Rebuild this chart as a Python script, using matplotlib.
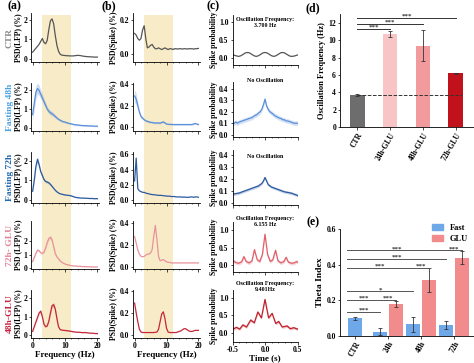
import numpy as np
import matplotlib
matplotlib.use('Agg')
import matplotlib.pyplot as plt
from matplotlib.patches import Patch

plt.rcParams['font.family'] = ['Liberation Serif', 'DejaVu Serif']
plt.rcParams['font.weight'] = 'bold'
plt.rcParams['axes.labelweight'] = 'bold'
plt.rcParams['axes.linewidth'] = 0.6

W, H = 474, 363

# ---------------- data ----------------
THETA_BAND = [3.0, 12.0]
FREQ = np.arange(0, 20.5, 0.5)

# (a) LFP power spectra (%)
CTR_LFP = [0.35, 0.45, 0.55, 0.65, 0.75, 0.9, 1.05, 0.85, 0.78, 0.95, 1.5, 1.95, 2.05, 1.8, 1.2, 0.7,
           0.4, 0.25, 0.2, 0.19, 0.18, 0.17, 0.17, 0.16, 0.16, 0.16, 0.17, 0.18, 0.19, 0.18, 0.17,
           0.15, 0.14, 0.13, 0.12, 0.12, 0.11, 0.11, 0.1, 0.1, 0.1]
F48_LFP = [0.7, 1.3, 1.9, 2.1, 2.0, 1.8, 1.6, 1.4, 1.2, 1.0, 0.88, 0.8, 0.75, 0.68, 0.6, 0.52,
           0.45, 0.4, 0.35, 0.32, 0.3, 0.27, 0.24, 0.22, 0.2, 0.18, 0.16, 0.15, 0.14, 0.13, 0.12,
           0.11, 0.11, 0.1, 0.1, 0.09, 0.09, 0.09, 0.08, 0.08, 0.08]
F48_LFP_SEM = [0.3, 0.35, 0.35, 0.3, 0.28, 0.25, 0.2, 0.18, 0.16, 0.14, 0.13, 0.12, 0.12, 0.1, 0.09,
               0.08, 0.07, 0.06, 0.06, 0.05, 0.05, 0.05, 0.04, 0.04, 0.04, 0.04, 0.04, 0.04, 0.04,
               0.03, 0.03, 0.03, 0.03, 0.03, 0.03, 0.03, 0.03, 0.03, 0.03, 0.03, 0.03]
F72_LFP = [0.45, 1.0, 1.7, 2.08, 1.8, 1.45, 1.25, 1.05, 0.95, 0.92, 0.88, 0.8, 0.7, 0.6, 0.5, 0.42,
           0.36, 0.32, 0.3, 0.28, 0.26, 0.25, 0.24, 0.23, 0.21, 0.18, 0.15, 0.13, 0.12, 0.11, 0.1,
           0.1, 0.1, 0.09, 0.09, 0.08, 0.08, 0.08, 0.07, 0.07, 0.07]
G72_LFP = [0.5, 0.8, 1.1, 1.35, 1.3, 1.15, 1.1, 1.2, 1.5, 1.9, 2.2, 2.3, 2.1, 1.6, 1.1, 0.85,
           0.7, 0.55, 0.45, 0.38, 0.32, 0.28, 0.25, 0.22, 0.2, 0.18, 0.17, 0.16, 0.15, 0.15, 0.14,
           0.13, 0.13, 0.12, 0.12, 0.11, 0.11, 0.1, 0.1, 0.1, 0.1]
G48_LFP = [0.2, 0.45, 0.7, 0.95, 1.2, 1.3, 1.0, 0.6, 0.45, 0.5, 0.75, 1.2, 1.6, 1.65, 1.4, 0.9,
           0.45, 0.3, 0.27, 0.26, 0.25, 0.24, 0.23, 0.21, 0.2, 0.18, 0.17, 0.16, 0.15, 0.15, 0.14,
           0.13, 0.14, 0.13, 0.12, 0.11, 0.1, 0.1, 0.09, 0.08, 0.08]

# (b) spike power spectra (%)
CTR_SPK = [0.12, 0.11, 0.09, 0.08, 0.09, 0.14, 0.165, 0.09, 0.035, 0.04, 0.05, 0.055, 0.04, 0.03,
           0.03, 0.035, 0.03, 0.025, 0.03, 0.035, 0.03, 0.025, 0.03, 0.03, 0.025, 0.03, 0.03, 0.028,
           0.03, 0.03, 0.028, 0.03, 0.03, 0.028, 0.03, 0.03, 0.03, 0.028, 0.03, 0.03, 0.032]
F48_SPK = [0.29, 0.26, 0.2, 0.14, 0.1, 0.085, 0.07, 0.06, 0.055, 0.05, 0.045, 0.045, 0.04, 0.04,
           0.04, 0.04, 0.038, 0.045, 0.05, 0.04, 0.03, 0.028, 0.027, 0.026, 0.025, 0.025, 0.025,
           0.025, 0.025, 0.025, 0.025, 0.025, 0.025, 0.025, 0.025, 0.025, 0.025, 0.03, 0.035, 0.03, 0.025]
F48_SPK_SEM = [0.06, 0.05, 0.03, 0.02, 0.015, 0.012, 0.01, 0.01, 0.01, 0.01, 0.008, 0.008, 0.008,
               0.008, 0.008, 0.008, 0.008, 0.008, 0.008, 0.008, 0.006, 0.006, 0.006, 0.006, 0.006,
               0.006, 0.006, 0.006, 0.006, 0.006, 0.006, 0.006, 0.006, 0.006, 0.006, 0.006, 0.006,
               0.006, 0.006, 0.006, 0.006]
F72_SPK = [0.25, 0.55, 0.15, 0.12, 0.11, 0.1, 0.1, 0.09, 0.085, 0.08, 0.075, 0.07, 0.07, 0.065,
           0.065, 0.06, 0.06, 0.06, 0.055, 0.055, 0.05, 0.05, 0.05, 0.045, 0.045, 0.045, 0.04, 0.04,
           0.04, 0.04, 0.035, 0.04, 0.035, 0.035, 0.035, 0.04, 0.04, 0.035, 0.04, 0.04, 0.035]
G72_SPK = [0.28, 0.22, 0.16, 0.12, 0.1, 0.095, 0.1, 0.11, 0.12, 0.12, 0.13, 0.16, 0.28, 0.38, 0.25,
           0.1, 0.06, 0.065, 0.07, 0.06, 0.05, 0.045, 0.045, 0.04, 0.04, 0.04, 0.04, 0.04, 0.04,
           0.04, 0.04, 0.04, 0.04, 0.04, 0.04, 0.04, 0.04, 0.04, 0.04, 0.04, 0.04]
G48_SPK = [0.29, 0.2, 0.12, 0.05, 0.025, 0.02, 0.02, 0.02, 0.02, 0.02, 0.02, 0.02, 0.02, 0.022,
           0.025, 0.05, 0.12, 0.19, 0.21, 0.15, 0.06, 0.025, 0.02, 0.02, 0.02, 0.02, 0.02, 0.025,
           0.03, 0.035, 0.045, 0.055, 0.055, 0.045, 0.035, 0.03, 0.03, 0.035, 0.04, 0.04, 0.04]

# (c) spike autocorrelograms
CTR_T = [-0.5, -0.45, -0.405, -0.37, -0.335, -0.3, -0.27, -0.24, -0.205, -0.17, -0.135, -0.1,
         -0.065, -0.03, 0, 0.03, 0.065, 0.1, 0.135, 0.17, 0.205, 0.24, 0.27, 0.3, 0.335, 0.37,
         0.405, 0.45, 0.5]
CTR_AC = [0.09, 0.06, 0.04, 0.06, 0.1, 0.14, 0.15, 0.14, 0.1, 0.06, 0.04, 0.06, 0.1, 0.14, 0.15,
          0.14, 0.1, 0.06, 0.04, 0.06, 0.1, 0.14, 0.15, 0.14, 0.1, 0.06, 0.04, 0.05, 0.08]
F48_T = [-0.5, -0.475, -0.45, -0.425, -0.4, -0.375, -0.35, -0.325, -0.3, -0.275, -0.25, -0.225,
         -0.2, -0.175, -0.15, -0.125, -0.1, -0.075, -0.05, -0.025, 0, 0.025, 0.05, 0.075, 0.1,
         0.125, 0.15, 0.175, 0.2, 0.225, 0.25, 0.275, 0.3, 0.325, 0.35, 0.375, 0.4, 0.425, 0.45,
         0.475, 0.5]
F48_AC = [0.1, 0.1, 0.11, 0.1, 0.11, 0.115, 0.12, 0.125, 0.13, 0.135, 0.14, 0.145, 0.15, 0.16,
          0.17, 0.175, 0.19, 0.2, 0.22, 0.26, 0.31, 0.25, 0.22, 0.2, 0.19, 0.18, 0.165, 0.16, 0.15,
          0.145, 0.14, 0.13, 0.13, 0.12, 0.12, 0.115, 0.11, 0.105, 0.1, 0.1, 0.1]
F72_T = [-0.5, -0.45, -0.4, -0.35, -0.3, -0.25, -0.2, -0.15, -0.1, -0.05, -0.025, 0, 0.025, 0.05,
         0.1, 0.15, 0.2, 0.25, 0.3, 0.35, 0.4, 0.45, 0.5]
F72_AC = [0.07, 0.075, 0.08, 0.09, 0.1, 0.11, 0.12, 0.13, 0.14, 0.16, 0.18, 0.21, 0.18, 0.15,
          0.13, 0.12, 0.11, 0.1, 0.09, 0.085, 0.08, 0.07, 0.06]
G72_T = [-0.5, -0.4875, -0.45, -0.406, -0.36, -0.325, -0.29, -0.244, -0.2, -0.1625, -0.12, -0.081,
         -0.04, 0, 0.04, 0.081, 0.12, 0.1625, 0.2, 0.244, 0.29, 0.325, 0.36, 0.406, 0.45, 0.4875, 0.5]
G72_AC = [0.08, 0.12, 0.07, 0.05, 0.09, 0.24, 0.1, 0.06, 0.12, 0.44, 0.15, 0.1, 0.3, 0.88, 0.3,
          0.1, 0.15, 0.42, 0.12, 0.06, 0.1, 0.22, 0.08, 0.05, 0.06, 0.1, 0.08]
G48_T = [-0.5, -0.44, -0.39, -0.34, -0.285, -0.22, -0.165, -0.11, -0.055, 0, 0.055, 0.11, 0.165,
         0.21, 0.265, 0.34, 0.39, 0.44, 0.5]
G48_AC = [0.09, 0.15, 0.1, 0.22, 0.16, 0.36, 0.28, 0.59, 0.42, 0.95, 0.42, 0.55, 0.26, 0.32, 0.16,
          0.19, 0.11, 0.14, 0.1]

# (d) oscillation frequency
D_GROUPS = ['CTR', '24h-GLU', '48h-GLU', '72h-GLU']
D_FREQ = [3.7, 10.7, 9.4, 6.2]
D_ERR = [0.1, 0.35, 1.8, 0.06]
D_SIG = [(0, 1, 11.3, '***'), (0, 2, 11.9, '***'), (0, 3, 12.6, '***')]

# (e) theta index
E_GROUPS = ['CTR', '24h', '48h', '72h']
E_FAST = [0.10, 0.025, 0.065, 0.06]
E_FAST_ERR = [0.008, 0.02, 0.04, 0.022]
E_GLU = [np.nan, 0.178, 0.315, 0.44]
E_GLU_ERR = [np.nan, 0.017, 0.068, 0.035]
E_SIG = [(-0.24, 0.76, 0.135, '***'), (-0.24, 0.76, 0.20, '***'), (0.76, 1.24, 0.20, '***'),
         (-0.24, 1.76, 0.25, '*'), (-0.24, 1.76, 0.38, '***'), (1.76, 2.24, 0.38, '***'),
         (-0.24, 2.76, 0.43, '***'), (-0.24, 2.76, 0.48, '***'), (2.76, 3.24, 0.48, '***')]

# ---------------- style ----------------
BAND_C = '#f8ebc8'
ROW_NAMES = ['CTR', 'Fasting 48h', 'Fasting 72h', '72h- GLU', '48h-GLU']
ROW_NAME_C = ['#8c8c8c', '#4aa0e0', '#2068b0', '#e58095', '#c8233f']
LINE_C = ['#555555', '#5b8fd9', '#2b5a9e', '#e8939a', '#c4273a']
AC_C = ['#555555', '#5b8fd9', '#2b5a9e', '#e0606a', '#c0202c']
ROWS = [(13, 62), (83, 131), (152, 203), (221, 269), (290, 338)]
C_ROWS = [(15, 65), (82, 137), (150, 205), (222, 272), (290, 342)]
TICK_FS = 5.5
LAB_FS = 5.5

fig = plt.figure(figsize=(W / 100, H / 100), dpi=100)


def px_axes(left, top, right, bottom, **kw):
    return fig.add_axes([left / W, 1 - bottom / H, (right - left) / W, (bottom - top) / H], **kw)


def style(ax):
    for s in ['top', 'right']:
        ax.spines[s].set_visible(False)
    ax.patch.set_alpha(0)
    ax.tick_params(labelsize=TICK_FS, length=1.8, width=0.5, pad=1)
    ax.tick_params(which='minor', length=1.0, width=0.4)


# background theta band for columns (a) and (b)
for left, right in [(31, 99), (133, 200)]:
    bg = px_axes(left, 15, right, 338)
    bg.set_xlim(-0.5, 20.5)
    bg.set_ylim(0, 1)
    bg.axvspan(THETA_BAND[0], THETA_BAND[1], color=BAND_C, lw=0)
    bg.axis('off')

lfp = [CTR_LFP, F48_LFP, F72_LFP, G72_LFP, G48_LFP]
lfp_ylim = [(-0.15, 2.35), (-0.18, 2.4), (-0.15, 2.45), (-0.05, 3.5), (-0.16, 2.45)]
lfp_lab = ['PSD(LFP) (%)', 'PSD(LFP) (%)', 'PSD(LFP) (%)', 'PSD (LFP) (%)', 'PSD(LFP) (%)']
spk = [CTR_SPK, F48_SPK, F72_SPK, G72_SPK, G48_SPK]
spk_ylim = [(-0.048, 0.24), (-0.035, 0.41), (-0.04, 0.63), (-0.015, 0.42), (-0.03, 0.41)]
spk_ticks = [[0.0, 0.2], [0.0, 0.2, 0.4], [0.0, 0.2, 0.4, 0.6], [0.0, 0.2, 0.4], [0.0, 0.2, 0.4]]
ac_t = [CTR_T, F48_T, F72_T, G72_T, G48_T]
ac = [CTR_AC, F48_AC, F72_AC, G72_AC, G48_AC]
ac_ylim = [(-0.2, 1.2), (-0.02, 0.46), (-0.02, 0.44), (-0.2, 1.23), (-0.27, 1.22)]
ac_ticks = [[0.0, 0.5, 1.0], [0.0, 0.1, 0.2, 0.3, 0.4], [0.0, 0.1, 0.2, 0.3, 0.4],
            [0.0, 0.5, 1.0], [0.0, 0.5, 1.0]]
ac_band = [0.0, 0.02, 0.012, 0.05, 0.04]
ac_title = ['Oscillation Frequency:\n3.700 Hz', 'No Oscillation', 'No Oscillation',
            'Oscillation Frequency:\n6.155 Hz', 'Oscillation Frequency:\n9.401Hz']
ac_title_y = [17, 78, 154, 216, 281]

for i in range(5):
    top, bottom = ROWS[i]
    last = i == 4
    # (a)
    ax = px_axes(31, top, 99, bottom)
    style(ax)
    ax.plot(FREQ, lfp[i], color=LINE_C[i], lw=0.9)
    if i == 1:
        y = np.array(lfp[i]); e = np.array(F48_LFP_SEM)
        ax.fill_between(FREQ, y - e, y + e, color=LINE_C[i], alpha=0.3, lw=0)
    elif i > 1:
        y = np.array(lfp[i])
        ax.fill_between(FREQ, y * 0.93, y * 1.07, color=LINE_C[i], alpha=0.25, lw=0)
    ax.set_xlim(-0.5, 20.5)
    ax.set_ylim(*lfp_ylim[i])
    ax.set_yticks([0, 1, 2])
    ax.set_xticks([0, 10, 20])
    ax.set_xticks(np.arange(0, 21, 2), minor=True)
    if not last:
        ax.set_xticklabels([])
    else:
        ax.set_xlabel('Frequency (Hz)', fontsize=6.5, labelpad=1)
    ax.set_ylabel(lfp_lab[i], fontsize=LAB_FS, labelpad=1)
    fig.text(10 / W, 1 - (top + bottom) / 2 / H, ROW_NAMES[i], rotation=90, ha='center',
             va='center', fontsize=6.8, color=ROW_NAME_C[i], fontweight='bold')

    # (b)
    ax = px_axes(133, top, 200, bottom)
    style(ax)
    ax.plot(FREQ, spk[i], color=LINE_C[i], lw=0.9)
    if i == 1:
        y = np.array(spk[i]); e = np.array(F48_SPK_SEM)
        ax.fill_between(FREQ, y - e, y + e, color=LINE_C[i], alpha=0.3, lw=0)
    ax.set_xlim(-0.5, 20.5)
    ax.set_ylim(*spk_ylim[i])
    ax.set_yticks(spk_ticks[i])
    ax.set_yticklabels(['%.1f' % v for v in spk_ticks[i]])
    ax.set_xticks([0, 10, 20])
    ax.set_xticks(np.arange(0, 21, 2), minor=True)
    if not last:
        ax.set_xticklabels([])
    else:
        ax.set_xlabel('Frequency (Hz)', fontsize=6.5, labelpad=1)
    ax.set_ylabel('PSD(Spike) (%)', fontsize=LAB_FS, labelpad=1)

    # (c)
    ctop, cbottom = C_ROWS[i]
    ax = px_axes(232.5, ctop, 297.5, cbottom)
    style(ax)
    t = np.array(ac_t[i]); y = np.array(ac[i])
    if ac_band[i] > 0:
        ax.fill_between(t, y - ac_band[i], y + ac_band[i], color=AC_C[i], alpha=0.25, lw=0)
    ax.plot(t, y, color=AC_C[i], lw=0.9)
    ax.set_xlim(-0.5, 0.5)
    ax.set_ylim(*ac_ylim[i])
    ax.set_yticks(ac_ticks[i])
    ax.set_yticklabels(['%.1f' % v for v in ac_ticks[i]])
    ax.set_xticks([-0.5, 0, 0.5])
    ax.set_xticks(np.arange(-0.5, 0.51, 0.1), minor=True)
    if not last:
        ax.set_xticklabels([])
    else:
        ax.set_xticklabels(['-0.5', '0.0', '0.5'])
        ax.set_xlabel('Time (s)', fontsize=6.5, labelpad=0.5)
    ax.set_ylabel('Spike probability', fontsize=LAB_FS, labelpad=1)
    fig.text(265 / W, 1 - ac_title_y[i] / H, ac_title[i], ha='center', va='top', fontsize=4.3,
             fontweight='bold', linespacing=1.3)

# panel letters
for lab, x, y in [('(a)', 14, 6), ('(b)', 109, 6), ('(c)', 213, 6), ('(d)', 313, 8), ('(e)', 313, 222)]:
    fig.text(x / W, 1 - y / H, lab, ha='center', va='center', fontsize=8.5, fontweight='bold')

# (d) oscillation frequency bars
axd = px_axes(340, 14.3, 474, 127)
style(axd)
xd = np.arange(len(D_GROUPS))
axd.bar(xd, D_FREQ, width=0.45, color=['#6d6d6d', '#f9c4c6', '#f29a9c', '#c1121c'],
        yerr=D_ERR, capsize=1.2, error_kw=dict(elinewidth=0.6, capthick=0.6, ecolor='#333333'))
axd.hlines(D_FREQ[0], 0, 3.2, colors='#333333', linestyles='--', lw=0.7)
for a, b, y, s in D_SIG:
    axd.plot([a, b], [y, y], color='#333333', lw=0.7)
    axd.text((a + b) / 2, y - 0.05, s, ha='center', va='bottom', fontsize=5, color='#333333')
axd.set_xlim(-0.52, 3.55)
axd.set_ylim(0, 13)
axd.set_yticks(range(0, 13, 2))
axd.set_xticks(xd)
axd.set_xticklabels(D_GROUPS, rotation=60, ha='right', rotation_mode='anchor')
axd.set_ylabel('Oscillation Frequency (Hz)', fontsize=6, labelpad=2)

# (e) theta index bars
axe = px_axes(340, 229, 474, 336)
style(axe)
xe = np.arange(len(E_GROUPS))
fast_x = xe - 0.24
fast_x[0] = 0
ekw = dict(elinewidth=0.6, capthick=0.6, ecolor='#333333')
axe.bar(fast_x, E_FAST, width=0.43, color='#6fa8e8', yerr=E_FAST_ERR, capsize=1.2, error_kw=ekw)
axe.bar(xe + 0.24, E_GLU, width=0.43, color='#f28b8b', yerr=E_GLU_ERR, capsize=1.2, error_kw=ekw)
for a, b, y, s in E_SIG:
    axe.plot([a, b], [y, y], color='#555555', lw=0.7)
    axe.text((a + b) / 2, y - 0.004, s, ha='center', va='bottom', fontsize=5, color='#333333')
axe.set_xlim(-0.45, 3.6)
axe.set_ylim(0, 0.6)
axe.set_yticks([0.0, 0.2, 0.4, 0.6])
axe.set_yticklabels(['0.0', '0.2', '0.4', '0.6'])
axe.set_xticks(xe)
axe.set_xticklabels(E_GROUPS, rotation=60, ha='right', rotation_mode='anchor')
axe.set_ylabel('Theta Index', fontsize=6.8, labelpad=2)
axe.legend(handles=[Patch(color='#6fa8e8', label='Fast'), Patch(color='#f28b8b', label='GLU')],
           loc='upper right', bbox_to_anchor=(1.0, 1.1), frameon=False, fontsize=6,
           handlelength=1.3, handleheight=0.7, labelspacing=0.3, handletextpad=0.8,
           borderpad=0.2)

fig.savefig('out.png', dpi=100)
